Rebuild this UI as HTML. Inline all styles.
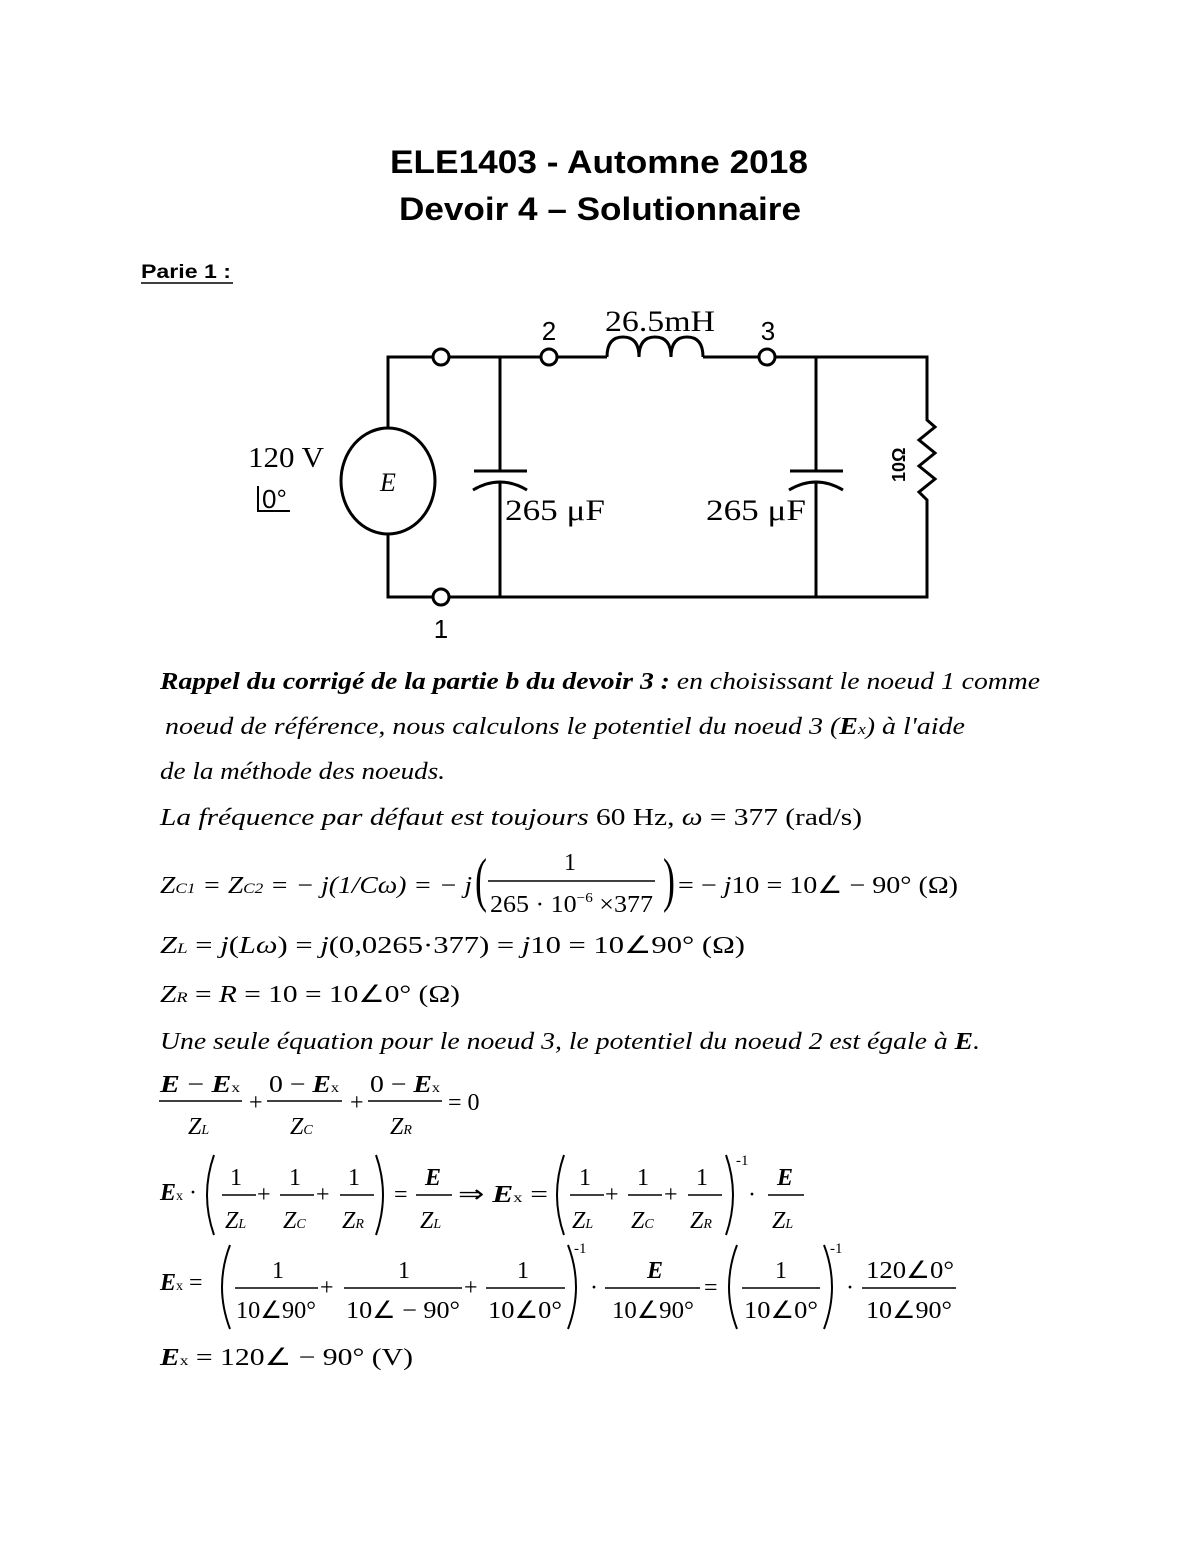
<!DOCTYPE html>
<html><head><meta charset="utf-8"><style>
html,body{margin:0;padding:0;background:#fff;}
svg{display:block}
.s{font-family:"Liberation Sans",sans-serif}
.r{font-family:"Liberation Serif",serif}
.i{font-style:italic}
.b{font-weight:bold}
</style></head><body>
<svg width="1200" height="1553" viewBox="0 0 1200 1553" xmlns="http://www.w3.org/2000/svg" fill="#000">
<text class="s b" x="390" y="173" font-size="32" textLength="418" lengthAdjust="spacingAndGlyphs">ELE1403 - Automne 2018</text>
<text class="s b" x="399" y="220" font-size="32" textLength="402" lengthAdjust="spacingAndGlyphs">Devoir 4 – Solutionnaire</text>
<text class="s b" x="141" y="278" font-size="19" textLength="90" lengthAdjust="spacingAndGlyphs">Parie 1 :</text>
<line x1="141" y1="283" x2="233" y2="283" stroke="#000" stroke-width="1.5"/>

<g stroke="#000" stroke-width="3" fill="none">
<polyline points="388,428 388,357 433,357"/>
<line x1="449" y1="357" x2="541" y2="357"/>
<line x1="557" y1="357" x2="607" y2="357"/>
<path d="M607,357 q0,-20 16,-20 q16,0 16,20 q0,-20 16,-20 q16,0 16,20 q0,-20 16,-20 q16,0 16,20"/>
<line x1="703" y1="357" x2="759" y2="357"/>
<polyline points="775,357 927,357 927,420 935,427 919,440 935,453 919,466 935,479 919,492 927,500 927,597 449,597"/>
<polyline points="433,597 388,597 388,534"/>
<ellipse cx="388" cy="481" rx="47" ry="53"/>
<circle cx="441" cy="357" r="8"/><circle cx="549" cy="357" r="8"/><circle cx="767" cy="357" r="8"/><circle cx="441" cy="597" r="8"/>
<line x1="500" y1="357" x2="500" y2="471"/>
<line x1="474" y1="471" x2="527" y2="471"/>
<path d="M473,490 q27,-16 54,0"/>
<line x1="500" y1="482" x2="500" y2="597"/>
<line x1="816" y1="357" x2="816" y2="471"/>
<line x1="790" y1="471" x2="843" y2="471"/>
<path d="M789,490 q27,-16 54,0"/>
<line x1="816" y1="482" x2="816" y2="597"/>
</g>
<text class="s" x="549" y="340" font-size="26" text-anchor="middle">2</text>
<text class="s" x="768" y="340" font-size="26" text-anchor="middle">3</text>
<text class="s" x="441" y="638" font-size="26" text-anchor="middle">1</text>
<text class="r" x="605" y="331" font-size="30" textLength="110" lengthAdjust="spacingAndGlyphs">26.5mH</text>
<text class="r" x="248" y="467" font-size="28" textLength="76" lengthAdjust="spacingAndGlyphs">120 V</text>
<text class="s" x="262" y="508" font-size="26">0°</text>
<polyline points="258,486 258,511 290,511" stroke="#000" stroke-width="2" fill="none"/>
<text class="r i" x="388" y="491" font-size="26" text-anchor="middle">E</text>
<text class="r" x="505" y="520" font-size="30" textLength="100" lengthAdjust="spacingAndGlyphs">265 μF</text>
<text class="r" x="706" y="520" font-size="30" textLength="100" lengthAdjust="spacingAndGlyphs">265 μF</text>
<text class="s b" x="0" y="0" font-size="18" transform="translate(905,482) rotate(-90)">10Ω</text>

<g class="r" font-size="24">
<text x="160" y="689" class="i" textLength="880" lengthAdjust="spacingAndGlyphs"><tspan class="b">Rappel du corrigé de la partie b du devoir 3 :</tspan> en choisissant le noeud 1 comme</text>
<text x="165" y="734" class="i" textLength="800" lengthAdjust="spacingAndGlyphs">noeud de référence, nous calculons le potentiel du noeud 3 (<tspan class="b">E</tspan><tspan font-size="15">x</tspan>) à l'aide</text>
<text x="160" y="779" class="i" textLength="285" lengthAdjust="spacingAndGlyphs">de la méthode des noeuds.</text>
<text x="160" y="825" textLength="702" lengthAdjust="spacingAndGlyphs"><tspan class="i">La fréquence par défaut est toujours</tspan> 60 Hz, <tspan class="i">ω</tspan> = 377    (rad/s)</text>

<text x="160" y="893" class="i" textLength="312" lengthAdjust="spacingAndGlyphs">Z<tspan font-size="15">C1</tspan> = Z<tspan font-size="15">C2</tspan> = − j(1/Cω) = − j</text>
<text x="475" y="900" font-size="60" transform="scale(0.6 1)" style="transform-box:fill-box">(</text>
<text x="570" y="870" text-anchor="middle">1</text>
<line x1="488" y1="881" x2="655" y2="881" stroke="#000" stroke-width="1.5"/>
<text x="490" y="912" textLength="163" lengthAdjust="spacingAndGlyphs">265 · 10<tspan font-size="14" dy="-10">−6</tspan><tspan dy="10"> ×377</tspan></text>
<text x="663" y="900" font-size="60" transform="scale(0.6 1)" style="transform-box:fill-box">)</text>
<text x="678" y="893" textLength="280" lengthAdjust="spacingAndGlyphs">= − <tspan class="i">j</tspan>10 = 10∠ − 90°    (Ω)</text>

<text x="160" y="953" textLength="585" lengthAdjust="spacingAndGlyphs"><tspan class="i">Z</tspan><tspan class="i" font-size="15">L</tspan> = <tspan class="i">j</tspan>(<tspan class="i">Lω</tspan>) = <tspan class="i">j</tspan>(0,0265·377) = <tspan class="i">j</tspan>10 = 10∠90°    (Ω)</text>
<text x="160" y="1002" textLength="300" lengthAdjust="spacingAndGlyphs"><tspan class="i">Z</tspan><tspan class="i" font-size="15">R</tspan> = <tspan class="i">R</tspan> = 10 = 10∠0°    (Ω)</text>
<text x="160" y="1049" class="i" textLength="820" lengthAdjust="spacingAndGlyphs">Une seule équation pour le noeud 3, le potentiel du noeud 2 est égale à <tspan class="b">E</tspan>.</text>

<text x="160" y="1092" textLength="80" lengthAdjust="spacingAndGlyphs"><tspan class="b i">E</tspan> − <tspan class="b i">E</tspan><tspan font-size="14">x</tspan></text>
<line x1="159" y1="1101" x2="242" y2="1101" stroke="#000" stroke-width="1.5"/>
<text x="188" y="1134" class="i">Z<tspan font-size="14">L</tspan></text>
<text x="249" y="1110">+</text>
<text x="269" y="1092" textLength="70" lengthAdjust="spacingAndGlyphs">0 − <tspan class="b i">E</tspan><tspan font-size="14">x</tspan></text>
<line x1="267" y1="1101" x2="342" y2="1101" stroke="#000" stroke-width="1.5"/>
<text x="290" y="1134" class="i">Z<tspan font-size="14">C</tspan></text>
<text x="350" y="1110">+</text>
<text x="370" y="1092" textLength="70" lengthAdjust="spacingAndGlyphs">0 − <tspan class="b i">E</tspan><tspan font-size="14">x</tspan></text>
<line x1="368" y1="1101" x2="442" y2="1101" stroke="#000" stroke-width="1.5"/>
<text x="390" y="1134" class="i">Z<tspan font-size="14">R</tspan></text>
<text x="448" y="1110">= 0</text>

<text x="160" y="1200"><tspan class="b i">E</tspan><tspan font-size="14">x</tspan> ·</text>
<path d="M214,1155 q-14,40 0,80" stroke="#000" stroke-width="2" fill="none"/>
<text x="230" y="1185">1</text><line x1="222" y1="1195" x2="256" y2="1195" stroke="#000" stroke-width="1.5"/><text x="225" y="1228" class="i">Z<tspan font-size="14">L</tspan></text>
<text x="257" y="1202">+</text>
<text x="289" y="1185">1</text><line x1="280" y1="1195" x2="314" y2="1195" stroke="#000" stroke-width="1.5"/><text x="283" y="1228" class="i">Z<tspan font-size="14">C</tspan></text>
<text x="316" y="1202">+</text>
<text x="348" y="1185">1</text><line x1="340" y1="1195" x2="374" y2="1195" stroke="#000" stroke-width="1.5"/><text x="342" y="1228" class="i">Z<tspan font-size="14">R</tspan></text>
<path d="M376,1155 q14,40 0,80" stroke="#000" stroke-width="2" fill="none"/>
<text x="394" y="1202">=</text>
<text x="425" y="1185" class="b i">E</text><line x1="416" y1="1195" x2="452" y2="1195" stroke="#000" stroke-width="1.5"/><text x="420" y="1228" class="i">Z<tspan font-size="14">L</tspan></text>
<text x="458" y="1202" textLength="90" lengthAdjust="spacingAndGlyphs">⇒ <tspan class="b i">E</tspan><tspan font-size="14">x</tspan> =</text>
<path d="M564,1155 q-14,40 0,80" stroke="#000" stroke-width="2" fill="none"/>
<text x="579" y="1185">1</text><line x1="570" y1="1195" x2="604" y2="1195" stroke="#000" stroke-width="1.5"/><text x="572" y="1228" class="i">Z<tspan font-size="14">L</tspan></text>
<text x="605" y="1202">+</text>
<text x="637" y="1185">1</text><line x1="628" y1="1195" x2="662" y2="1195" stroke="#000" stroke-width="1.5"/><text x="631" y="1228" class="i">Z<tspan font-size="14">C</tspan></text>
<text x="664" y="1202">+</text>
<text x="696" y="1185">1</text><line x1="688" y1="1195" x2="722" y2="1195" stroke="#000" stroke-width="1.5"/><text x="690" y="1228" class="i">Z<tspan font-size="14">R</tspan></text>
<path d="M726,1155 q14,40 0,80" stroke="#000" stroke-width="2" fill="none"/>
<text x="736" y="1165" font-size="15">-1</text>
<text x="748" y="1202">·</text>
<text x="777" y="1185" class="b i">E</text><line x1="768" y1="1195" x2="804" y2="1195" stroke="#000" stroke-width="1.5"/><text x="772" y="1228" class="i">Z<tspan font-size="14">L</tspan></text>

<text x="160" y="1290"><tspan class="b i">E</tspan><tspan font-size="14">x</tspan> =</text>
<path d="M230,1245 q-16,42 0,84" stroke="#000" stroke-width="2" fill="none"/>
<text x="272" y="1278">1</text><line x1="235" y1="1288" x2="318" y2="1288" stroke="#000" stroke-width="1.5"/><text x="236" y="1318" textLength="80" lengthAdjust="spacingAndGlyphs">10∠90°</text>
<text x="320" y="1295">+</text>
<text x="398" y="1278">1</text><line x1="344" y1="1288" x2="462" y2="1288" stroke="#000" stroke-width="1.5"/><text x="346" y="1318" textLength="114" lengthAdjust="spacingAndGlyphs">10∠ − 90°</text>
<text x="464" y="1295">+</text>
<text x="517" y="1278">1</text><line x1="486" y1="1288" x2="565" y2="1288" stroke="#000" stroke-width="1.5"/><text x="488" y="1318" textLength="74" lengthAdjust="spacingAndGlyphs">10∠0°</text>
<path d="M568,1245 q16,42 0,84" stroke="#000" stroke-width="2" fill="none"/>
<text x="574" y="1253" font-size="15">-1</text>
<text x="590" y="1295">·</text>
<text x="647" y="1278" class="b i">E</text><line x1="605" y1="1288" x2="700" y2="1288" stroke="#000" stroke-width="1.5"/><text x="612" y="1318" textLength="82" lengthAdjust="spacingAndGlyphs">10∠90°</text>
<text x="704" y="1295">=</text>
<path d="M737,1245 q-16,42 0,84" stroke="#000" stroke-width="2" fill="none"/>
<text x="775" y="1278">1</text><line x1="742" y1="1288" x2="820" y2="1288" stroke="#000" stroke-width="1.5"/><text x="744" y="1318" textLength="74" lengthAdjust="spacingAndGlyphs">10∠0°</text>
<path d="M824,1245 q16,42 0,84" stroke="#000" stroke-width="2" fill="none"/>
<text x="830" y="1253" font-size="15">-1</text>
<text x="846" y="1295">·</text>
<text x="866" y="1278" textLength="88" lengthAdjust="spacingAndGlyphs">120∠0°</text><line x1="862" y1="1288" x2="956" y2="1288" stroke="#000" stroke-width="1.5"/><text x="866" y="1318" textLength="86" lengthAdjust="spacingAndGlyphs">10∠90°</text>

<text x="160" y="1365" textLength="253" lengthAdjust="spacingAndGlyphs"><tspan class="b i">E</tspan><tspan font-size="14">x</tspan> = 120∠ − 90°    (V)</text>
</g>
</svg>
</body></html>
